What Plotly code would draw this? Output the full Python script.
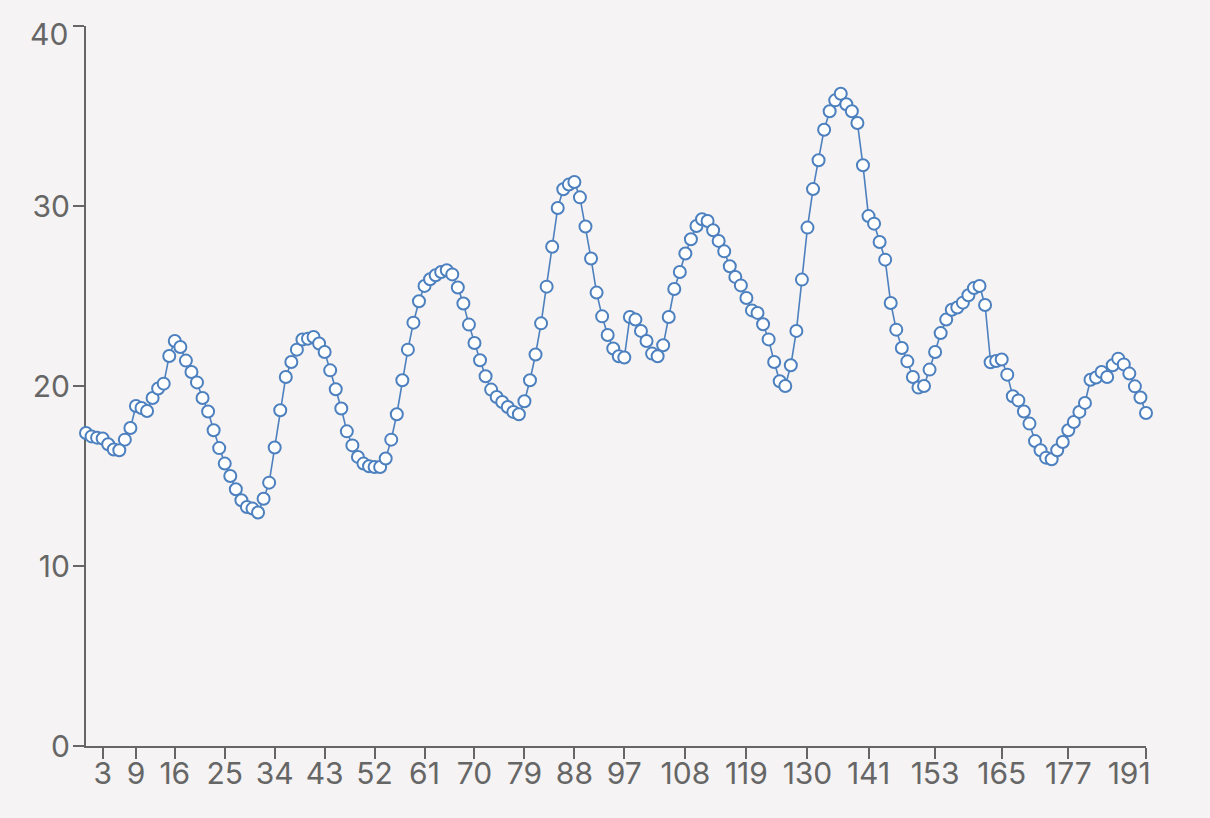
import plotly.graph_objects as go

# category index (0..191) and values
values = [
    17.39, 17.2, 17.13, 17.08, 16.76, 16.47, 16.43, 17.02, 17.67, 18.89,
    18.78, 18.61, 19.33, 19.86, 20.13, 21.67, 22.5, 22.17, 21.41, 20.78,
    20.2, 19.33, 18.58, 17.54, 16.55, 15.69, 15.0, 14.26, 13.65, 13.28,
    13.19, 12.97, 13.74, 14.63, 16.58, 18.65, 20.5, 21.33, 22.02, 22.58,
    22.63, 22.72, 22.36, 21.89, 20.87, 19.82, 18.75, 17.48, 16.7, 16.06,
    15.69, 15.54, 15.5, 15.5, 15.97, 17.02, 18.43, 20.32, 22.02, 23.52,
    24.71, 25.56, 25.93, 26.15, 26.33, 26.43, 26.2, 25.47, 24.58, 23.41,
    22.39, 21.43, 20.54, 19.8, 19.39, 19.11, 18.83, 18.56, 18.43, 19.15,
    20.32, 21.75, 23.48, 25.52, 27.74, 29.89, 30.93, 31.19, 31.33, 30.48,
    28.86, 27.08, 25.19, 23.87, 22.83, 22.08, 21.65, 21.58, 23.83, 23.69,
    23.06, 22.5, 21.8, 21.65, 22.26, 23.83, 25.39, 26.33, 27.36, 28.15,
    28.89, 29.26, 29.17, 28.65, 28.06, 27.48, 26.65, 26.06, 25.59, 24.89,
    24.2, 24.06, 23.43, 22.59, 21.33, 20.26, 20.0, 21.15, 23.06, 25.91,
    28.8, 30.94, 32.54, 34.24, 35.26, 35.87, 36.24, 35.65, 35.26, 34.61,
    32.26, 29.44, 29.02, 28.0, 27.02, 24.61, 23.13, 22.11, 21.37, 20.5,
    19.91, 20.0, 20.91, 21.89, 22.94, 23.69, 24.24, 24.36, 24.63, 25.04,
    25.44, 25.56, 24.5, 21.32, 21.39, 21.47, 20.63, 19.43, 19.2, 18.58,
    17.91, 16.94, 16.43, 16.02, 15.93, 16.43, 16.89, 17.54, 18.0, 18.56,
    19.06, 20.35, 20.47, 20.78, 20.5, 21.15, 21.52, 21.2, 20.69, 19.98,
    19.36, 18.5,
]
categories = list(range(len(values)))
x_tick_labels = [3, 9, 16, 25, 34, 43, 52, 61, 70, 79, 88, 97, 108, 119, 130, 141, 153, 165, 177, 191]
y_tick_values = [0, 10, 20, 30, 40]

LINE = "#4d80bf"
AXIS = "#666666"
BG = "#f5f3f3"
FONT = "Inter, Roboto, sans-serif"
FSIZE = 30

# last labels are flushed inside the axis extent (as in the reference)
x_tick_text = [str(v) for v in x_tick_labels]
x_tick_text[-1] = x_tick_text[-1] + "\u00a0" * 4
y_tick_text = [str(v) for v in y_tick_values]
y_tick_text[-1] = ""

fig = go.Figure()
fig.add_trace(go.Scatter(
    x=categories, y=values,
    mode="lines+markers",
    line=dict(color=LINE, width=1.6),
    marker=dict(size=12, color="white", line=dict(color=LINE, width=2)),
    cliponaxis=False,
    hoverinfo="x+y",
))

# flushed top y label
fig.add_annotation(
    x=0, xref="paper", y=y_tick_values[-1], yref="y",
    text=str(y_tick_values[-1]), showarrow=False,
    xanchor="right", yanchor="middle", xshift=-16, yshift=-8,
    font=dict(family=FONT, size=FSIZE, color=AXIS),
)

fig.update_layout(
    width=1210, height=818,
    paper_bgcolor=BG, plot_bgcolor=BG,
    margin=dict(l=86, r=64, t=26, b=72, pad=0, autoexpand=False),
    showlegend=False,
    font=dict(family=FONT, size=FSIZE, color=AXIS),
)
fig.update_xaxes(
    range=[0, len(values) - 1],
    tickmode="array",
    tickvals=x_tick_labels,
    ticktext=x_tick_text,
    showgrid=False, zeroline=False,
    showline=True, linecolor=AXIS, linewidth=2,
    ticks="outside", ticklen=11, tickwidth=2, tickcolor=AXIS,
    tickfont=dict(family=FONT, size=FSIZE, color=AXIS),
    ticklabelstandoff=-11,
    automargin=False,
    layer="below traces",
)
fig.update_yaxes(
    range=[0, 40],
    tickmode="array",
    tickvals=y_tick_values,
    ticktext=y_tick_text,
    showgrid=False, zeroline=False,
    showline=True, linecolor=AXIS, linewidth=2,
    ticks="outside", ticklen=11, tickwidth=2, tickcolor=AXIS,
    tickfont=dict(family=FONT, size=FSIZE, color=AXIS),
    ticklabelstandoff=-3,
    automargin=False,
    layer="below traces",
)

fig.write_html(
    "out.html",
    config={"displayModeBar": False},
    post_script="document.body.style.margin='0';document.body.style.padding='0';"
                "document.body.style.overflow='hidden';document.body.style.background='" + BG + "';",
)
